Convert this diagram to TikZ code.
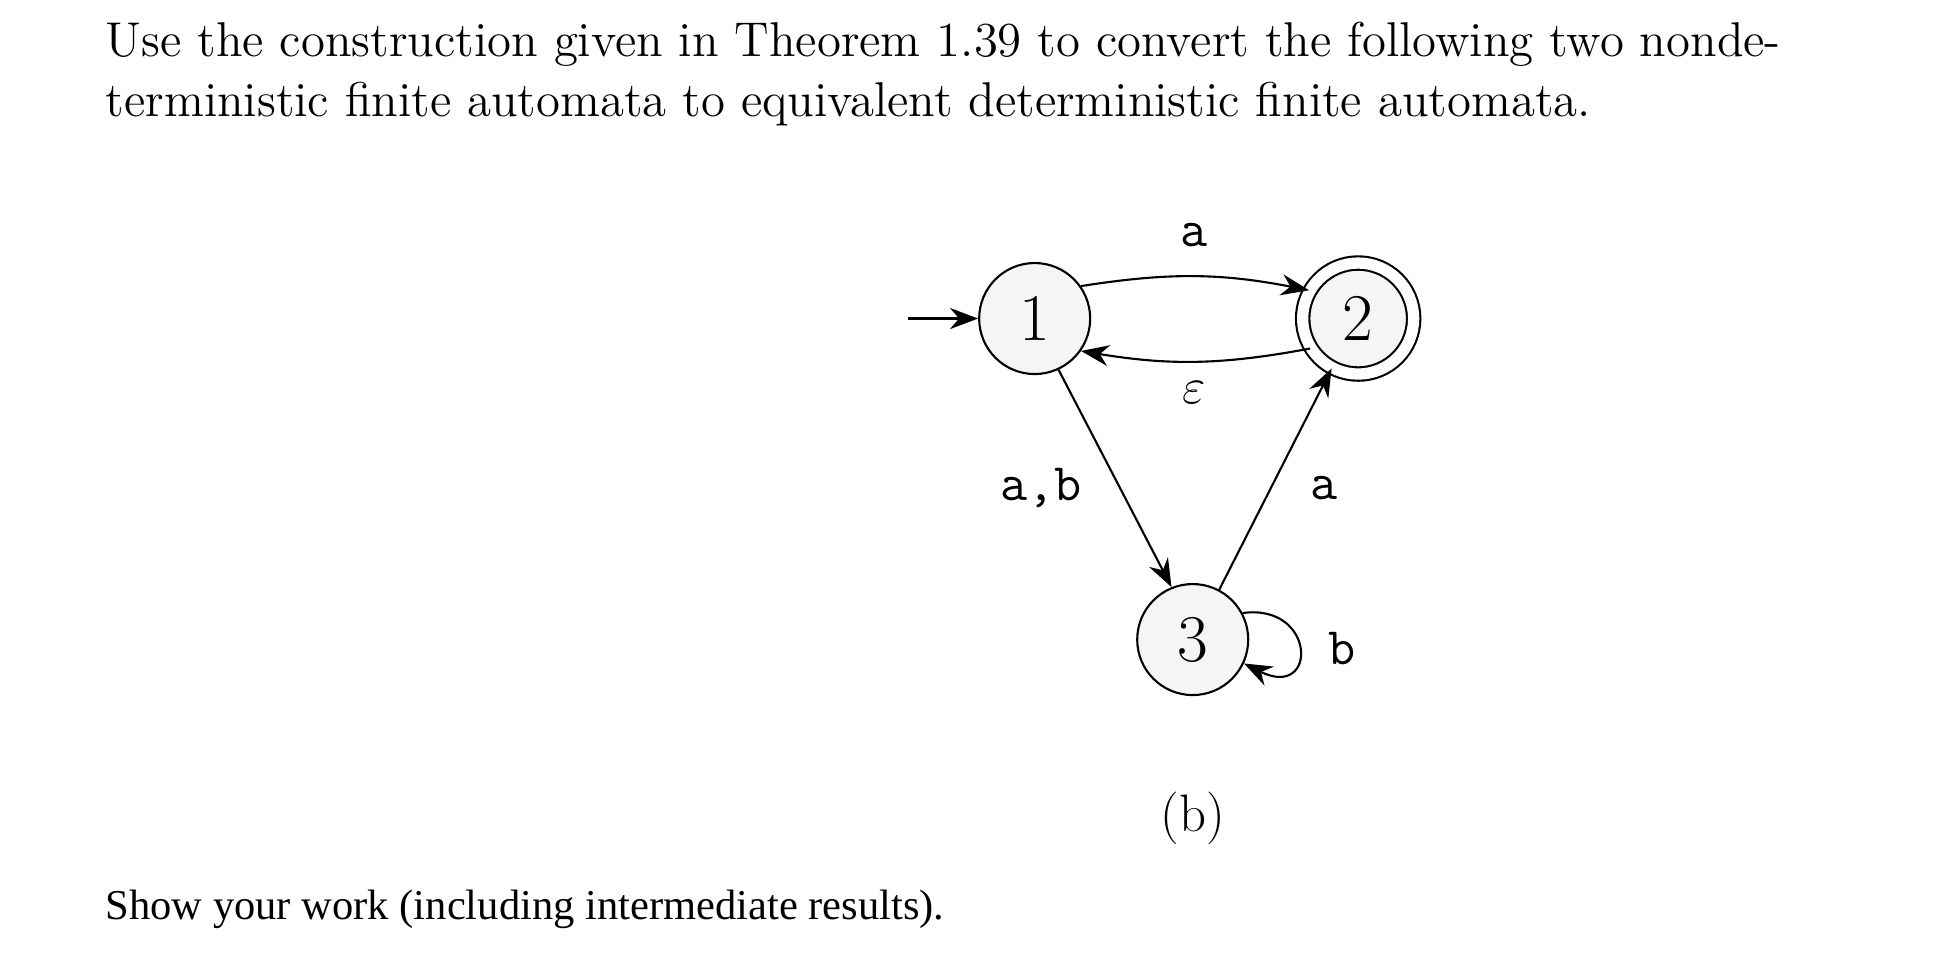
\documentclass[tikz,border=0pt]{standalone}
\usepackage{fontspec}
\newfontfamily\timesf{Liberation Serif}
\usetikzlibrary{arrows.meta}
\begin{document}
\begin{tikzpicture}[x=0.012347cm,y=-0.012347cm,
  st/.style={circle,draw,fill=gray!8,minimum size=1.11cm,inner sep=0pt,line width=0.6pt,font=\fontsize{19}{19}\selectfont},
  acc/.style={st,double,double distance=3.2pt},
  tr/.style={-{Stealth[length=8pt,width=6pt]},line width=0.6pt},
  lbl/.style={font=\ttfamily\fontsize{15}{15}\selectfont},
  para/.style={anchor=base west,inner sep=0pt}]
\useasboundingbox (0,0) rectangle (1568,773);
\node[para,font=\fontsize{13.9}{13.9}\selectfont] (l1) at (85,46) {Use the construction given in Theorem 1.39 to convert the following two nonde-};
\node[para,font=\fontsize{13.9}{13.9}\selectfont] (l2) at (85,94) {terministic finite automata to equivalent deterministic finite automata.};
\node[para,font=\timesf\fontsize{12.1}{12.1}\selectfont] (l3) at (85,745) {Show your work (including intermediate results).};
\node[st] (n1) at (838,258) {1};
\node[acc] (n2) at (1100,258) {2};
\node[st] (n3) at (966,518) {3};
\coordinate (s) at (735,258);
\draw[tr] (s) -- (n1);
\draw[tr] (n1.35) to[bend left=10] (n2.150);
\draw[tr] (n2.212) to[bend left=10] (n1.325);
\draw[tr] (n1.295) -- (n3.112);
\draw[tr] (n3.62) -- (n2.242);
\draw[tr] (n3.28) .. controls +(60,-8) and +(60,30) .. (n3.335);
\node[lbl] (la) at (967,190) {a};
\node[font=\fontsize{15}{15}\selectfont] (le) at (967,318) {$\varepsilon$};
\node[lbl] (lab) at (843,395) {a,b};
\node[lbl] (la2) at (1072,395) {a};
\node[lbl] (lb) at (1087,525) {b};
\node[font=\fontsize{15}{15}\selectfont] (cap) at (966,663) {(b)};
\end{tikzpicture}
\end{document}
